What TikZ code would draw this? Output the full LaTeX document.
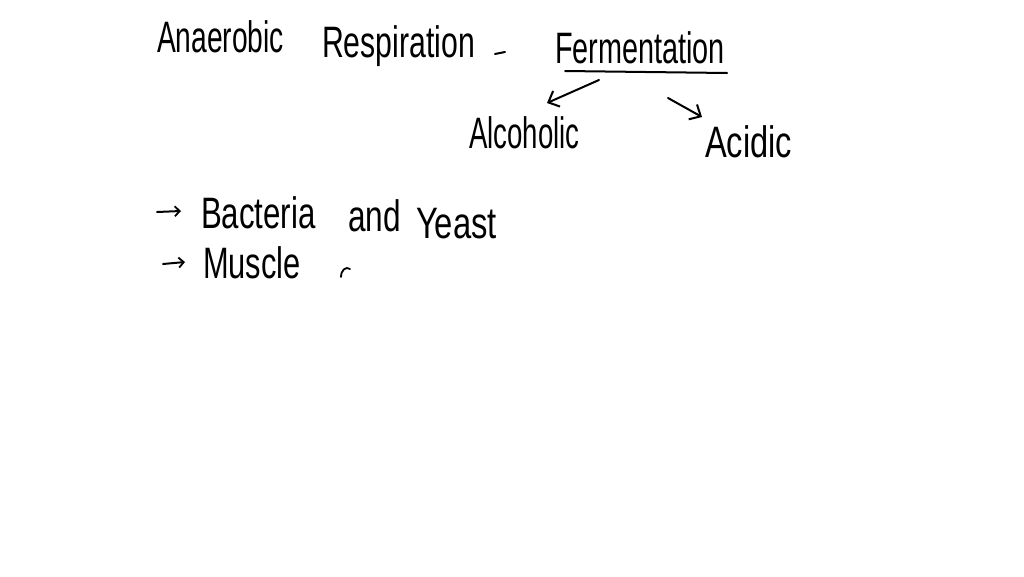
\documentclass[tikz,border=0pt]{standalone}
\usepackage{fontspec}
\setmainfont{Liberation Sans}
\usetikzlibrary{arrows.meta}
\newcommand{\hw}[2]{\scalebox{#1}[1]{#2}}
\tikzset{
  word/.style={anchor=base west, inner sep=0pt, outer sep=0pt, font=\fontsize{44}{44}\selectfont, text=black},
  pen/.style={line width=2pt, line cap=round, line join=round, black},
  harrow/.style={pen, -{Straight Barb[length=9pt,width=17pt,line width=2pt]}},
  bullet/.style={pen, -{Straight Barb[length=5pt,width=10pt,line width=1.8pt]}}
}
\begin{document}
\begin{tikzpicture}[x=1pt,y=-1pt]
\path[fill=white] (0,0) rectangle (1024,576);
\useasboundingbox (0,0) rectangle (1024,576);

% title line
\node[word] (anaer) at (157,52) {\hw{0.641}{Anaerobic}};
\node[word] (resp) at (322,57) {\hw{0.687}{Respiration}};
\coordinate (dashA) at (495,54);
\coordinate (dashB) at (505,52);
\draw[pen] (dashA) -- (dashB);
\node[word] (ferm) at (555,63) {\hw{0.655}{Fermentation}};
\coordinate (ulA) at (565,71);
\coordinate (ulB) at (727,73);
\draw[pen] (ulA) -- (ulB);

% branches
\coordinate (brL) at (599,80);
\coordinate (brLend) at (547,103);
\coordinate (brR) at (668,98);
\coordinate (brRend) at (702,117);
\draw[harrow] (brL) -- (brLend);
\draw[harrow] (brR) -- (brRend);
\node[word] (alco) at (469,148) {\hw{0.627}{Alcoholic}};
\node[word] (acid) at (705,157) {\hw{0.741}{Acidic}};

% list
\coordinate (b1a) at (157,212);
\coordinate (b1b) at (181,211);
\draw[bullet] (b1a) -- (b1b);
\node[word] (bact) at (201,228) {\hw{0.709}{Bacteria}};
\node[word] (and) at (348,231) {\hw{0.718}{and}};
\node[word] (yeast) at (416,238) {\hw{0.745}{Yeast}};

\coordinate (b2a) at (163,264);
\coordinate (b2b) at (185,262);
\draw[bullet] (b2a) -- (b2b);
\node[word] (musc) at (203,278) {\hw{0.70}{Muscle}};
\coordinate (mkA) at (341,277);
\coordinate (mkB) at (350,269);
\draw[pen, line width=1.8pt] (mkA) .. controls (341,270) and (346,266) .. (mkB);
\end{tikzpicture}
\end{document}
